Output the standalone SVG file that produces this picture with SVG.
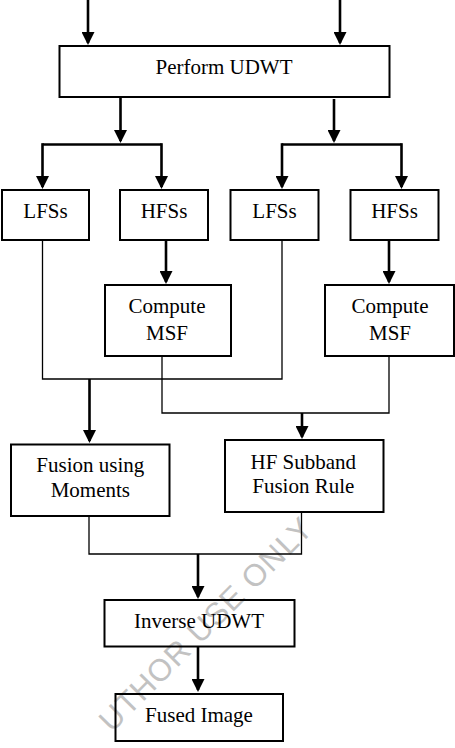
<svg xmlns="http://www.w3.org/2000/svg" width="455" height="748" viewBox="0 0 455 748">
<style>
.box{fill:none;stroke:#000;stroke-width:2}
.t{font-family:"Liberation Serif","Times New Roman",serif;font-size:21px;fill:#000;text-anchor:middle}
.arr{fill:none;stroke:#000;stroke-width:2.6;marker-end:url(#ah)}
.thin{fill:none;stroke:#000;stroke-width:1.3}
.wm{font-family:"Liberation Sans",Arial,sans-serif;font-size:31px;letter-spacing:1px;fill:#c2c2c2;text-anchor:end}
</style>
<defs>
<marker id="ah" markerUnits="userSpaceOnUse" markerWidth="13" markerHeight="13" viewBox="0 0 13 13" refX="11" refY="6.5" orient="auto">
<path d="M0,0 L13,6.5 L0,13 z" fill="#000"/>
</marker>
</defs>
<rect width="455" height="748" fill="#fff"/>
<text class="wm" x="315" y="530" transform="rotate(-45 315 530)">UTHOR USE ONLY</text>

<g id="connectors">
<line class="arr" x1="88" y1="0" x2="88" y2="43"/>
<line class="arr" x1="340" y1="0" x2="340" y2="43"/>
<line class="arr" x1="120.5" y1="97" x2="120.5" y2="141"/>
<polyline class="thin" style="stroke-width:2.6" points="42.5,144.5 161.5,144.5"/>
<line class="arr" x1="42.5" y1="143.2" x2="42.5" y2="187"/>
<line class="arr" x1="161.5" y1="143.2" x2="161.5" y2="187"/>
<line class="arr" x1="334" y1="99" x2="334" y2="141"/>
<polyline class="thin" style="stroke-width:2.6" points="282,144.5 401.5,144.5"/>
<line class="arr" x1="282" y1="143.2" x2="282" y2="187"/>
<line class="arr" x1="401.5" y1="143.2" x2="401.5" y2="187"/>
<line class="arr" x1="166" y1="240" x2="166" y2="282"/>
<line class="arr" x1="389" y1="240" x2="389" y2="282"/>
<polyline class="thin" points="42.5,240 42.5,379 282,379 282,240"/>
<line class="arr" x1="89.5" y1="379" x2="89.5" y2="441"/>
<polyline class="thin" points="162,356 162,413 389,413 389,356"/>
<line class="arr" x1="302" y1="413" x2="302" y2="437"/>
<polyline class="thin" points="89,516 89,554 301.5,554 301.5,512"/>
<line class="arr" x1="198" y1="554" x2="198" y2="597"/>
<line class="arr" x1="198" y1="647" x2="198" y2="690"/>
</g>

<g id="udwt"><rect class="box" x="59.5" y="46" width="330" height="51"/><text class="t" x="224" y="74">Perform UDWT</text></g>
<g id="lfs1"><rect class="box" x="2" y="190" width="87" height="50"/><text class="t" x="45.5" y="218">LFSs</text></g>
<g id="hfs1"><rect class="box" x="120" y="190" width="88" height="50"/><text class="t" x="164" y="218">HFSs</text></g>
<g id="lfs2"><rect class="box" x="230.5" y="190" width="88" height="50"/><text class="t" x="274.5" y="218">LFSs</text></g>
<g id="hfs2"><rect class="box" x="350.5" y="190" width="88" height="50"/><text class="t" x="394.5" y="218">HFSs</text></g>
<g id="msf1"><rect class="box" x="105" y="285" width="126" height="71"/><text class="t" x="167" y="313">Compute</text><text class="t" x="167" y="340">MSF</text></g>
<g id="msf2"><rect class="box" x="325" y="285" width="129" height="71"/><text class="t" x="390" y="313">Compute</text><text class="t" x="390" y="340">MSF</text></g>
<g id="fusion"><rect class="box" x="11" y="444.5" width="158.5" height="71.5"/><text class="t" x="90.3" y="472">Fusion using</text><text class="t" x="90.3" y="497">Moments</text></g>
<g id="hfrule"><rect class="box" x="225" y="440" width="158.5" height="72"/><text class="t" x="303.3" y="469">HF Subband</text><text class="t" x="303.3" y="493">Fusion Rule</text></g>
<g id="inverse"><rect class="box" x="104.5" y="600" width="190" height="46.5"/><text class="t" x="199" y="628">Inverse UDWT</text></g>
<g id="fused"><rect class="box" x="115.5" y="694" width="167.5" height="47"/><text class="t" x="199" y="722">Fused Image</text></g>
</svg>
